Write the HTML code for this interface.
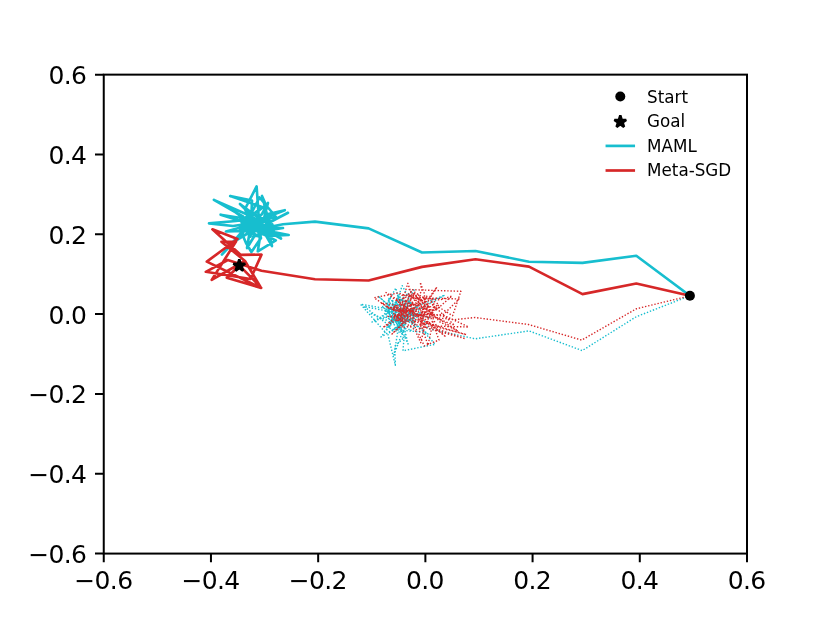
<!DOCTYPE html>
<html><head><meta charset="utf-8"><title>MAML vs Meta-SGD trajectories</title>
<style>html,body{margin:0;padding:0;background:#fff}svg{display:block}text{font-family:"DejaVu Sans","Liberation Sans",sans-serif;fill:#000}.t{font-size:25px;letter-spacing:-0.65px}.l{font-size:16.75px}</style></head><body>
<svg width="830" height="622" viewBox="0 0 830 622">
<rect width="830" height="622" fill="#fff"/>
<defs><clipPath id="ax"><rect x="103.75" y="74.64" width="643.25" height="478.94"/></clipPath></defs>
<g clip-path="url(#ax)" fill="none" stroke-linejoin="round">
<polyline points="689.9,295.8 636.3,255.8 582.5,262.9 529.0,261.7 475.5,251.0 422.0,252.5 368.6,228.4 315.0,221.6 283.0,224.2 260.2,228.7 238.0,237.5 221.9,254.6 241.0,233.0 258.1,223.7 246.0,226.0 226.0,231.5 244.0,231.0 246.6,216.9 270.0,228.0 283.0,228.0 265.0,231.0 257.8,228.1 250.0,232.0 235.0,241.0 247.0,228.0 239.1,228.4 260.0,237.0 257.8,251.3 275.8,240.4 249.9,227.8 264.0,232.0 272.0,246.0 268.0,229.0 257.6,229.7 248.0,220.0 231.0,209.0 251.0,224.0 262.2,224.5 247.6,228.8 262.0,214.0 268.0,203.0 263.0,222.0 249.5,219.7 242.2,234.1 246.0,243.0 251.4,252.0 261.0,238.0 258.0,227.2 250.0,214.0 240.0,204.0 256.0,216.0 264.2,220.8 251.7,233.4 255.0,235.0 247.0,248.0 250.0,230.0 272.3,224.4 262.0,228.0 281.0,238.5 266.0,224.0 265.6,228.5 268.0,214.0 284.8,210.2 262.0,219.0 248.6,222.5 254.9,234.5 245.0,209.0 256.6,186.4 259.0,221.0 254.0,230.9 276.0,219.0 288.0,212.8 270.0,222.0 264.2,221.4 252.0,212.0 259.5,197.5 276.0,217.0 246.4,223.4 253.5,217.5 238.0,217.5 220.6,214.7 244.0,222.0 254.7,218.9 246.0,214.0 213.9,199.9 243.0,216.5 240.2,219.7 250.6,236.5 252.0,200.5 230.2,196.1 262.0,207.0 241.7,223.8 266.0,205.0 262.0,196.0 270.0,225.0 270.3,235.1 269.6,220.5 233.0,226.0 209.0,223.4 236.0,221.0 250.2,219.2 268.2,217.9 271.0,231.5 288.7,235.0 268.0,236.0 246.3,216.9 256.4,229.5 247.7,216.4 261.2,233.0 253.3,236.5 273.1,231.4" stroke="#17becf" stroke-width="2.65" stroke-linecap="square"/>
<polyline points="689.9,295.8 636.3,316.7 582.2,350.6 529.0,330.9 475.1,338.8 428.1,328.6 417.6,307.7 386.0,317.5 401.8,323.2 400.0,300.0 415.0,289.0 404.0,305.0 407.7,310.7 417.5,306.1 408.0,300.9 397.0,301.0 402.2,285.7 410.0,300.0 413.8,323.2 388.4,301.6 388.8,298.4 390.0,315.0 372.0,322.0 394.0,310.0 415.2,326.9 409.9,331.0 391.6,299.8 403.9,339.5 403.0,350.8 435.2,344.3 424.3,332.4 399.8,330.0 414.9,308.3 401.8,319.9 420.0,305.0 444.8,295.1 415.0,312.0 399.0,296.0 404.0,305.4 385.7,311.2 390.0,298.6 408.0,312.0 431.0,318.0 404.0,310.0 384.6,314.4 406.9,307.7 395.0,320.0 381.0,337.0 399.0,326.0 408.7,301.0 400.0,300.1 380.0,318.0 370.0,313.0 386.0,320.0 411.7,314.4 412.7,314.6 388.6,325.0 364.0,306.5 392.0,312.0 401.0,332.9 386.7,327.0 409.4,302.0 397.2,328.7 410.0,320.0 428.0,334.0 405.0,318.0 385.5,311.1 406.3,329.4 395.8,315.8 387.0,304.0 395.8,288.0 399.0,302.0 399.5,319.1 388.6,321.9 414.4,318.7 410.1,301.5 393.4,309.8 360.5,304.2 384.6,331.5 403.0,309.0 402.6,324.6 393.5,329.4 415.9,306.9 398.0,322.0 408.0,344.0 402.0,318.0 381.6,306.7 397.7,304.0 392.0,308.0 378.0,296.0 396.0,312.0 389.2,327.7 398.0,294.4 405.0,325.0 394.0,355.0 398.0,330.0 394.1,324.5 401.7,321.9 415.3,320.6 419.7,312.7 387.8,333.9 395.3,365.2 395.0,346.0 406.3,335.5 389.3,314.1 392.2,322.2 406.8,313.9 415.4,315.4 393.1,308.2" stroke="#17becf" stroke-width="1.4" stroke-dasharray="1.4 1.8"/>
<polyline points="689.9,295.8 636.3,283.5 582.5,294.1 529.0,266.6 475.5,259.3 422.0,266.9 368.6,280.5 315.0,279.3 261.5,270.8 227.8,260.0 205.8,271.8 250.5,279.0 261.5,254.6 240.8,254.9 212.4,229.3 237.5,239.0 206.8,261.6 261.2,288.0 226.8,277.7 243.0,262.0 211.7,279.9 236.0,241.5 221.4,241.7 245.0,261.0 260.5,287.0 239.0,265.0" stroke="#d62728" stroke-width="2.65" stroke-linecap="square"/>
<polyline points="689.9,295.8 636.3,308.8 581.7,340.1 528.5,324.5 475.1,317.5 455.0,319.6 434.6,317.6 422.3,315.6 415.5,293.4 397.3,300.7 434.0,328.0 465.4,338.8 420.0,326.0 429.0,304.1 418.9,298.8 440.0,322.0 458.0,331.0 433.0,315.0 421.6,311.0 422.8,309.3 419.0,335.0 424.3,345.9 439.0,340.0 431.0,318.0 409.0,313.1 400.7,321.3 414.7,292.2 452.6,315.7 460.9,291.3 409.0,289.6 425.0,305.0 428.4,307.0 432.7,306.5 436.2,309.8 432.6,304.8 454.5,325.3 436.0,318.0 408.5,293.9 421.0,322.1 401.6,294.5 440.0,300.0 452.0,296.0 436.0,310.0 387.8,307.4 412.1,310.5 423.8,298.5 437.0,327.0 466.4,334.6 428.0,323.5 397.3,320.3 394.1,316.7 393.3,307.8 412.0,297.5 459.0,299.0 443.5,314.5 439.6,314.7 419.5,314.1 405.0,322.0 392.0,334.0 410.0,316.0 400.9,321.9 404.8,302.9 400.0,318.0 383.0,327.5 405.0,310.0 406.9,315.9 393.9,314.5 415.0,330.0 420.7,342.7 425.0,325.0 394.3,306.4 420.9,303.4 399.3,315.4 411.0,293.0 407.8,283.3 404.0,296.0 397.2,320.6 419.6,307.9 425.0,301.3 398.0,293.0 374.1,297.7 390.0,309.0 413.5,311.8 393.8,310.2 422.3,315.6 422.0,328.0 428.0,345.0 433.0,322.0 402.1,327.7 401.5,308.8 447.4,317.0 468.6,327.0 430.0,326.0 415.7,329.9 411.3,304.2 422.0,291.0 420.2,282.3 424.5,294.0 424.3,314.4 388.1,316.4 413.0,320.2 395.0,305.0 381.0,303.0 398.0,312.0 411.5,305.7 426.8,296.2 439.0,304.7 425.0,320.0 446.0,337.0 420.0,315.0 424.0,327.0 434.0,307.7 430.0,298.0 437.0,287.0 426.0,302.0 433.6,313.9 420.7,306.3 398.0,300.0 386.0,292.5 402.0,305.0 418.5,315.4 391.3,316.6 426.3,306.5 426.7,314.2 410.8,324.5" stroke="#d62728" stroke-width="1.4" stroke-dasharray="1.4 1.8"/>
<circle cx="689.9" cy="295.75" r="5" fill="#000"/>
<polygon points="239.3,259.4 240.7,263.7 245.2,263.7 241.6,266.3 243.0,270.7 239.3,268.0 235.6,270.7 237.0,266.3 233.4,263.7 237.9,263.7" fill="#000" stroke="#000" stroke-width="2.5" stroke-linejoin="bevel"/>
</g>
<path d="M103.75 553.58v8.75M103.75 553.58h-8.75M210.96 553.58v8.75M103.75 473.76h-8.75M318.17 553.58v8.75M103.75 393.93h-8.75M425.38 553.58v8.75M103.75 314.11h-8.75M532.58 553.58v8.75M103.75 234.29h-8.75M639.79 553.58v8.75M103.75 154.46h-8.75M747.00 553.58v8.75M103.75 74.64h-8.75" stroke="#000" stroke-width="2" fill="none"/>
<rect x="103.75" y="74.64" width="643.25" height="478.94" fill="none" stroke="#000" stroke-width="2"/>
<text class="t" x="103.35" y="588.7" text-anchor="middle">−0.6</text>
<text class="t" x="86.25" y="562.98" text-anchor="end">−0.6</text>
<text class="t" x="210.56" y="588.7" text-anchor="middle">−0.4</text>
<text class="t" x="86.25" y="483.16" text-anchor="end">−0.4</text>
<text class="t" x="317.77" y="588.7" text-anchor="middle">−0.2</text>
<text class="t" x="86.25" y="403.33" text-anchor="end">−0.2</text>
<text class="t" x="424.98" y="588.7" text-anchor="middle">0.0</text>
<text class="t" x="86.25" y="323.51" text-anchor="end">0.0</text>
<text class="t" x="532.18" y="588.7" text-anchor="middle">0.2</text>
<text class="t" x="86.25" y="243.69" text-anchor="end">0.2</text>
<text class="t" x="639.39" y="588.7" text-anchor="middle">0.4</text>
<text class="t" x="86.25" y="163.86" text-anchor="end">0.4</text>
<text class="t" x="746.60" y="588.7" text-anchor="middle">0.6</text>
<text class="t" x="86.25" y="84.04" text-anchor="end">0.6</text>
<circle cx="620.3" cy="96.5" r="5"/>
<polygon points="620.3,115.5 621.7,119.9 626.2,119.9 622.6,122.5 624.0,126.9 620.3,124.2 616.6,126.9 618.0,122.5 614.4,119.9 618.9,119.9" fill="#000" stroke="#000" stroke-width="2.5" stroke-linejoin="bevel"/>
<path d="M606.9 145.9H633.7" stroke="#17becf" stroke-width="2.7" stroke-linecap="square"/>
<path d="M606.9 170.5H633.7" stroke="#d62728" stroke-width="2.7" stroke-linecap="square"/>
<text class="l" x="647.1" y="102.8">Start</text>
<text class="l" x="647.1" y="127.3">Goal</text>
<text class="l" x="647.1" y="151.8">MAML</text>
<text class="l" x="647.1" y="176.4">Meta-SGD</text>
</svg></body></html>
